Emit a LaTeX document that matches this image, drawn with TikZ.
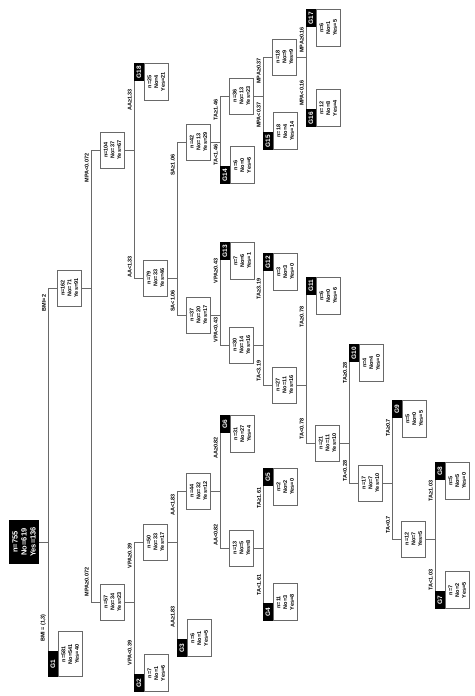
\documentclass[tikz,border=0pt]{standalone}
\usepackage{fontspec}
\setmainfont{Liberation Sans}
\usetikzlibrary{backgrounds}
\definecolor{linec}{RGB}{105,105,105}
\tikzset{
  innerbox/.style={draw=linec, line width=0.6pt, fill=white, rotate=90,
    minimum width=36pt, minimum height=24pt, inner sep=0pt, align=center,
    font=\fontsize{5.5}{6.8}\selectfont\bfseries},
  leafbox/.style={innerbox, minimum width=37pt},
  rootbox/.style={fill=black, text=white, rotate=90, minimum width=44pt,
    minimum height=30pt, inner sep=0pt, align=center,
    font=\fontsize{7.5}{9}\selectfont\bfseries},
  tagbox/.style={fill=black, text=white, rotate=90, minimum width=18pt,
    minimum height=10pt, inner sep=0pt,
    font=\fontsize{6.5}{7}\selectfont\bfseries},
  lab/.style={rotate=90, anchor=south, inner sep=0.5pt,
    font=\fontsize{5.5}{6}\selectfont\bfseries},
  conn/.style={draw=linec, line width=0.6pt}
}
\newcommand{\leafup}[5]{%
  \node[tagbox] (#1) at ({#2+5},{#3+9}) {#4};
  \node[leafbox,anchor=north east] (#1b) at ({#2+10},{#3}) {#5};}
\newcommand{\leafdn}[5]{%
  \node[tagbox] (#1) at ({#2+5},{#3-9}) {#4};
  \node[leafbox,anchor=north west] (#1b) at ({#2+10},{#3}) {#5};}
\begin{document}
\begin{tikzpicture}[x=1pt,y=-1pt]
\useasboundingbox (0,0) rectangle (474,696);

% internal nodes
\node[rootbox] (R) at (24,542) {n=755\\No=619\\Yes=136};
\node[innerbox] (A) at (69.5,288) {n=162\\No=71\\Yes=91};
\node[innerbox] (B) at (112.5,150) {n=104\\No=37\\Yes=67};
\node[innerbox] (C) at (112.5,602) {n=57\\No=34\\Yes=23};
\node[innerbox] (D) at (155.5,278) {n=79\\No=33\\Yes=46};
\node[innerbox] (E) at (155.5,542) {n=50\\No=33\\Yes=17};
\node[innerbox] (F) at (198.5,142) {n=42\\No=13\\Yes=29};
\node[innerbox] (H) at (198.5,315) {n=37\\No=20\\Yes=17};
\node[innerbox] (I) at (198.5,491) {n=44\\No=32\\Yes=12};
\node[innerbox] (J) at (241.5,96) {n=36\\No=13\\Yes=23};
\node[innerbox] (K) at (241.5,345) {n=30\\No=14\\Yes=16};
\node[innerbox] (L) at (241.5,548) {n=13\\No=5\\Yes=8};
\node[innerbox] (M) at (284.5,57) {n=18\\No=9\\Yes=9};
\node[innerbox] (N) at (284.5,385) {n=27\\No=11\\Yes=16};
\node[innerbox] (O) at (327.5,443) {n=21\\No=11\\Yes=10};
\node[innerbox] (P) at (370.5,483) {n=17\\No=7\\Yes=10};
\node[innerbox] (Q) at (413.5,539) {n=12\\No=7\\Yes=5};

% leaves
\node[tagbox, minimum width=26pt] (G1) at (53,664) {G1};
\node[leafbox, minimum width=45pt, anchor=north west] (G1b) at (58,677) {n=581\\No=541\\Yes=40};
\leafdn{G2}{134}{692}{G2}{n=7\\No=1\\Yes=6}
\leafdn{G3}{177}{657}{G3}{n=6\\No=1\\Yes=5}
\leafdn{G4}{263}{621}{G4}{n=11\\No=3\\Yes=8}
\leafup{G5}{263}{468}{G5}{n=2\\No=2\\Yes=0}
\leafup{G6}{220}{415}{G6}{n=31\\No=27\\Yes=4}
\leafdn{G7}{435}{609}{G7}{n=7\\No=2\\Yes=5}
\leafup{G8}{435}{462}{G8}{n=5\\No=5\\Yes=0}
\leafup{G9}{392}{400}{G9}{n=5\\No=0\\Yes=5}
\leafup{G10}{349}{344}{G10}{n=4\\No=4\\Yes=0}
\leafup{G11}{306}{277}{G11}{n=6\\No=0\\Yes=6}
\leafup{G12}{263}{253}{G12}{n=3\\No=3\\Yes=0}
\leafup{G13}{220}{242}{G13}{n=7\\No=6\\Yes=1}
\leafdn{G14}{220}{184}{G14}{n=6\\No=0\\Yes=6}
\leafdn{G15}{263}{150}{G15}{n=18\\No=4\\Yes=14}
\leafdn{G16}{306}{127}{G16}{n=12\\No=8\\Yes=4}
\leafup{G17}{306}{9}{G17}{n=6\\No=1\\Yes=5}
\leafup{G18}{134}{63}{G18}{n=25\\No=4\\Yes=21}

% connectors (under the boxes), white page behind them
\begin{scope}[on background layer]
\fill[white] (0,0) rectangle (474,696);
\foreach \p/\c in {R/A,R/G1,A/B,A/C,B/G18,B/D,C/E,C/G2,D/F,D/H,E/I,E/G3,
  F/J,F/G14,H/G13,H/K,I/G6,I/L,J/M,J/G15,K/G12,K/N,L/G5,L/G4,M/G17,M/G16,
  N/G11,N/O,O/G10,O/P,P/G9,P/Q,Q/G8,Q/G7}
  \draw[conn] (\p.south) -- ++(9,0) |- (\c.north);
\end{scope}

% labels
\node[lab] (l1) at (46.5,303) {BMI=2};
\node[lab] (l2) at (46.5,628) {BMI = (1,3)};
\node[lab] (l3) at (89.5,168) {MPA<0.072};
\node[lab] (l4) at (89.5,582) {MPA≥0.072};
\node[lab] (l5) at (132.5,100) {AA≥1.33};
\node[lab] (l6) at (132.5,267) {AA<1.33};
\node[lab] (l7) at (132.5,556) {VPA≥0.39};
\node[lab] (l8) at (132.5,653) {VPA<0.39};
\node[lab] (l9) at (175.5,165) {SA≥1.06};
\node[lab] (l10) at (175.5,301) {SA<1.06};
\node[lab] (l11) at (175.5,505) {AA<1.83};
\node[lab] (l12) at (175.5,617) {AA≥1.83};
\node[lab] (l13) at (218.5,110) {TA≥1.46};
\node[lab] (l14) at (218.5,155) {TA<1.46};
\node[lab] (l15) at (218.5,271) {VPA≥0.43};
\node[lab] (l16) at (218.5,330) {VPA<0.43};
\node[lab] (l17) at (218.5,448) {AA≥0.82};
\node[lab] (l18) at (218.5,535) {AA<0.82};
\node[lab] (l19) at (261.5,71) {MPA≥0.37};
\node[lab] (l20) at (261.5,115) {MPA<0.37};
\node[lab] (l21) at (261.5,289) {TA≥3.19};
\node[lab] (l22) at (261.5,371) {TA<3.19};
\node[lab] (l23) at (261.5,498) {TA≥1.61};
\node[lab] (l24) at (261.5,585) {TA<1.61};
\node[lab] (l25) at (304.5,40) {MPA≥0.16};
\node[lab] (l26) at (304.5,93) {MPA<0.16};
\node[lab] (l27) at (304.5,317) {TA≥0.78};
\node[lab] (l28) at (304.5,429) {TA<0.78};
\node[lab] (l29) at (347.5,373) {TA≥0.28};
\node[lab] (l30) at (347.5,471) {TA<0.28};
\node[lab] (l31) at (390.5,428) {TA≥0.7};
\node[lab] (l32) at (390.5,525) {TA<0.7};
\node[lab] (l33) at (433.5,491) {TA≥1.03};
\node[lab] (l34) at (433.5,580) {TA<1.03};
\end{tikzpicture}
\end{document}
